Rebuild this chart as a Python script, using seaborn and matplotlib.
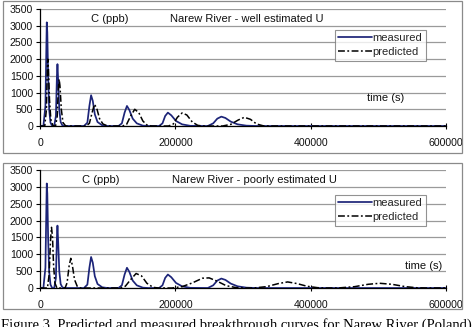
import numpy as np
import pandas as pd
import seaborn as sns
import matplotlib
matplotlib.use("Agg")
import matplotlib.pyplot as plt
from matplotlib.patches import Rectangle

# ---------------- data ----------------
t_meas = [0, 5000, 8000, 9500, 10000, 10800, 12000, 13500, 15500, 18000,
          21000, 23500, 25000, 25800, 27000, 28500, 30500, 33000, 36000,
          65000, 70000, 73000, 75500, 78000, 81000, 85000, 92000, 100000,
          116000, 121000, 125000, 128500, 132000, 137000, 143000, 152000, 160000,
          176000, 181000, 185000, 189000, 194000, 201000, 210000, 222000,
          248000, 256000, 262000, 268000, 274000, 282000, 292000, 305000, 320000, 600000]
c_meas = [0, 0, 600, 2500, 3100, 2800, 1500, 500, 100, 0,
          0, 300, 1500, 1850, 1300, 500, 120, 20, 0,
          0, 100, 600, 920, 750, 350, 120, 20, 0,
          0, 80, 400, 600, 480, 220, 80, 10, 0,
          0, 80, 300, 400, 320, 150, 50, 5,
          0, 80, 220, 280, 240, 130, 50, 10, 0, 0]

t_pred_well = [0, 7000, 9500, 10800, 11500, 12500, 14000, 16000, 19000, 21000,
               23000, 25500, 27000, 28300, 29500, 31500, 34000, 38000,
               68000, 73000, 77000, 80500, 84000, 88000, 93000, 100000,
               122000, 128000, 134000, 140000, 146000, 152000, 158000, 165000,
               190000, 197000, 203000, 210000, 217000, 225000, 233000, 240000,
               270000, 282000, 293000, 302000, 311000, 320000, 330000, 340000, 600000]
c_pred_well = [0, 0, 500, 1700, 2000, 1700, 800, 200, 20, 0,
               0, 300, 1100, 1400, 1200, 500, 100, 0,
               0, 80, 400, 650, 520, 220, 60, 0,
               0, 50, 300, 500, 400, 150, 30, 0,
               0, 60, 260, 390, 330, 120, 20, 0,
               0, 50, 180, 260, 200, 60, 5, 0, 0]

t_pred_poor = [0, 11000, 13500, 15500, 17000, 18500, 20000, 22000, 25000,
               37000, 40000, 43000, 45500, 48000, 51000, 55000, 60000,
               118000, 126000, 134000, 142000, 150000, 158000, 167000, 175000,
               195000, 210000, 225000, 240000, 250000, 262000, 275000, 290000, 300000,
               315000, 335000, 352000, 366000, 380000, 395000, 410000, 420000,
               440000, 465000, 485000, 502000, 520000, 540000, 558000, 570000, 600000]
c_pred_poor = [0, 0, 400, 1400, 1800, 1500, 700, 150, 0,
               0, 150, 650, 880, 650, 250, 50, 0,
               0, 50, 250, 430, 360, 140, 20, 0,
               0, 40, 150, 290, 300, 200, 70, 10, 0,
               0, 40, 130, 180, 130, 50, 10, 0,
               0, 40, 110, 140, 110, 40, 5, 0, 0]

panel_titles = ["Narew River - well estimated U", "Narew River - poorly estimated U"]
y_ticks = [0, 500, 1000, 1500, 2000, 2500, 3000, 3500]
x_ticks = [0, 200000, 400000, 600000]
legend_labels = ["measured", "predicted"]
caption = "Figure 3. Predicted and measured breakthrough curves for Narew River (Poland)"

# ---------------- figure ----------------
sns.set_theme(style="white")
plt.rcParams["font.family"] = ["Liberation Sans", "DejaVu Sans"]

W, H = 474, 327
fig = plt.figure(figsize=(W / 100, H / 100), dpi=100)
fig.patch.set_facecolor("white")

def fx(px):
    return px / W

def fy(py):
    return 1 - py / H

# outer frames
for (y0, y1) in [(0.5, 153), (162.5, 309)]:
    fig.add_artist(Rectangle((fx(3), fy(y1)), fx(462) - fx(3), fy(y0) - fy(y1),
                             transform=fig.transFigure, fill=False,
                             edgecolor="#8a8a8a", linewidth=0.9))

navy = "#1c2478"
pred_dash = (0, (4.5, 1.6, 1.2, 1.6))
TXT = 8.0
TICK = 7.6

panels = [
    dict(ytop=9, ybot=126, pred_t=t_pred_well, pred_c=c_pred_well, title=panel_titles[0],
         cx=91, ty=19, tx=170, timex=367, timey=98, leg=(335, 30, 426, 66)),
    dict(ytop=170, ybot=288, pred_t=t_pred_poor, pred_c=c_pred_poor, title=panel_titles[1],
         cx=82, ty=180, tx=172, timex=405, timey=266, leg=(335, 195, 427, 231)),
]

for p in panels:
    ax = fig.add_axes([fx(40), fy(p["ybot"]), fx(446) - fx(40), fy(p["ytop"]) - fy(p["ybot"])])
    ax.set_facecolor("none")
    df_m = pd.DataFrame({"t": t_meas, "c": c_meas})
    df_p = pd.DataFrame({"t": p["pred_t"], "c": p["pred_c"]})
    sns.lineplot(data=df_m, x="t", y="c", ax=ax, color=navy, linewidth=1.25,
                 sort=False, label=legend_labels[0], zorder=3)
    sns.lineplot(data=df_p, x="t", y="c", ax=ax, color="black", linewidth=1.1,
                 sort=False, label=legend_labels[1], zorder=4)
    ax.lines[1].set_linestyle(pred_dash)
    ax.set_xlim(0, 600000)
    ax.set_ylim(0, 3500)
    ax.set_xticks(x_ticks)
    ax.set_xticklabels([str(v) for v in x_ticks])
    ax.set_yticks(y_ticks)
    ax.set_yticklabels([str(v) for v in y_ticks])
    ax.set_xlabel("")
    ax.set_ylabel("")
    ax.yaxis.grid(True, color="#9a9a9a", linewidth=0.9)
    ax.xaxis.grid(False)
    for s in ["top", "right"]:
        ax.spines[s].set_visible(False)
    for s in ["left", "bottom"]:
        ax.spines[s].set_color("black")
        ax.spines[s].set_linewidth(0.9)
    ax.tick_params(axis="y", direction="out", length=3, width=0.8, color="black",
                   labelsize=TICK, pad=2, left=True, labelcolor="#111111")
    ax.tick_params(axis="x", direction="inout", length=4, width=0.8, color="black",
                   labelsize=TICK, pad=7, bottom=True, labelcolor="#111111")
    leg = ax.legend(loc="upper left",
                    bbox_to_anchor=((fx(p["leg"][0]) - fx(40)) / (fx(446) - fx(40)),
                                    (fy(p["leg"][1]) - fy(p["ybot"])) / (fy(p["ytop"]) - fy(p["ybot"]))),
                    frameon=True, fancybox=False, fontsize=TXT, handlelength=3.0,
                    handletextpad=0.1, borderpad=0.3, labelspacing=0.35,
                    borderaxespad=0)
    leg.get_frame().set_edgecolor("#777777")
    leg.get_frame().set_linewidth(0.8)
    leg.get_frame().set_facecolor("white")
    leg.set_zorder(6)
    fig.text(fx(p["cx"]), fy(p["ty"]), "C (ppb)", fontsize=TXT, ha="left", va="center", color="#111111")
    fig.text(fx(p["tx"]), fy(p["ty"]), p["title"], fontsize=TXT, ha="left", va="center", color="#111111")
    fig.text(fx(p["timex"]), fy(p["timey"]), "time (s)", fontsize=TXT, ha="left", va="center", color="#111111")

fig.text(fx(1), fy(318), caption, fontsize=10.5, ha="left", va="top",
         family=["Liberation Serif", "DejaVu Serif"], color="black")

fig.savefig("out.png", dpi=100)
